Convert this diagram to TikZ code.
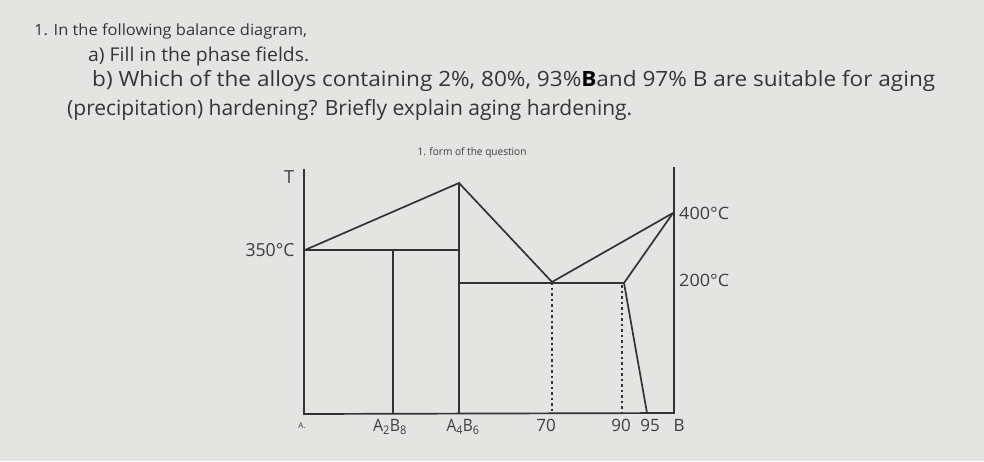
\documentclass[tikz,border=0pt]{standalone}
\usepackage{fontspec}
\setmainfont{Open Sans}
\usepackage{graphicx}
\definecolor{bg}{HTML}{E4E4E2}
\definecolor{ink}{HTML}{333333}
\definecolor{txt}{HTML}{353535}
\definecolor{lab}{HTML}{3E3E3E}
\newcommand{\fitto}[2]{\resizebox{#1}{\height}{#2}}
\begin{document}
\begin{tikzpicture}[x=1pt,y=-1pt,
  line/.style={draw=ink, line width=1.7pt},
  dotline/.style={draw=ink, line width=1.4pt, dash pattern=on 2.5pt off 3pt},
  lbl/.style={inner sep=0pt, text=txt},
  dlab/.style={inner sep=0pt, text=lab}]
\fill[bg] (0,0) rectangle (984,461);
\useasboundingbox (0,0) rectangle (984,461);
% header
\node[lbl, anchor=base west] (h1) at (34,35.5) {\fitto{273pt}{\fontsize{15.5}{18}\selectfont 1. In the following balance diagram,}};
\node[lbl, anchor=base west] (h2) at (88,61.5) {\fitto{221pt}{\fontsize{19}{22}\selectfont a) Fill in the phase fields.}};
\node[lbl, anchor=base west] (h3) at (92,86) {\fitto{843pt}{\fontsize{21}{24}\selectfont b) Which of the alloys containing 2\%, 80\%, 93\%\textcolor{black}{\textbf{B}}and 97\% B are suitable for aging}};
\node[lbl, anchor=base west] (h4) at (67,115) {\fitto{565pt}{\fontsize{21}{24}\selectfont (precipitation) hardening? Briefly explain aging hardening.}};
\node[dlab] (title) at (472,153) {\fitto{109pt}{\fontsize{10.5}{12}\selectfont 1. form of the question}};
% points
\coordinate (O) at (304,414);
\coordinate (Ltop) at (304,169);
\coordinate (Rtop) at (674,167);
\coordinate (Rbot) at (674,413);
\coordinate (P350) at (305,250);
\coordinate (Peak) at (459,183);
\coordinate (M350) at (459,250);
\coordinate (A2top) at (393,251);
\coordinate (A2bot) at (393,414);
\coordinate (A4bot) at (459,414);
\coordinate (Eleft) at (459,283);
\coordinate (E) at (552,282);
\coordinate (Eright) at (624,283);
\coordinate (Q400) at (673,213);
\coordinate (S95) at (647,413);
\coordinate (D70) at (552,413);
\coordinate (D90top) at (622,285);
\coordinate (D90) at (622,413);
% axes
\draw[line, line join=miter] (Ltop) -- (O) -- (Rbot) -- (Rtop);
% lines
\draw[line] (P350) -- (Peak) -- (A4bot);
\draw[line] (P350) -- (M350);
\draw[line] (A2top) -- (A2bot);
\draw[line] (Peak) -- (E) -- (Q400);
\draw[line] (Eleft) -- (Eright) -- (Q400);
\draw[line] (Eright) -- (S95);
\draw[dotline] (E) -- (D70);
\draw[dotline] (D90top) -- (D90);
% labels
\node[dlab] (T) at (289,177) {\fontsize{18}{20}\selectfont T};
\node[dlab] (l350) at (270,250) {\fitto{49pt}{\fontsize{18}{20}\selectfont 350\textdegree C}};
\node[dlab, anchor=west] (l400) at (679,213) {\fitto{50pt}{\fontsize{17}{20}\selectfont 400\textdegree C}};
\node[dlab, anchor=west] (l200) at (679,280) {\fitto{50pt}{\fontsize{17}{20}\selectfont 200\textdegree C}};
\node[dlab] (lA) at (302,426) {\fontsize{8}{10}\selectfont A.};
\node[dlab] (lA2B8) at (390,427) {\fitto{34pt}{\fontsize{17}{18}\selectfont A\textsubscript{2}B\textsubscript{8}}};
\node[dlab] (lA4B6) at (463,427) {\fitto{33pt}{\fontsize{17}{18}\selectfont A\textsubscript{4}B\textsubscript{6}}};
\node[dlab] (l70) at (546,425) {\fontsize{17}{18}\selectfont 70};
\node[dlab] (l90) at (621,425) {\fontsize{17}{18}\selectfont 90};
\node[dlab] (l95) at (650,425) {\fontsize{17}{18}\selectfont 95};
\node[dlab] (lB) at (679,425) {\fontsize{17}{18}\selectfont B};
\end{tikzpicture}
\end{document}
